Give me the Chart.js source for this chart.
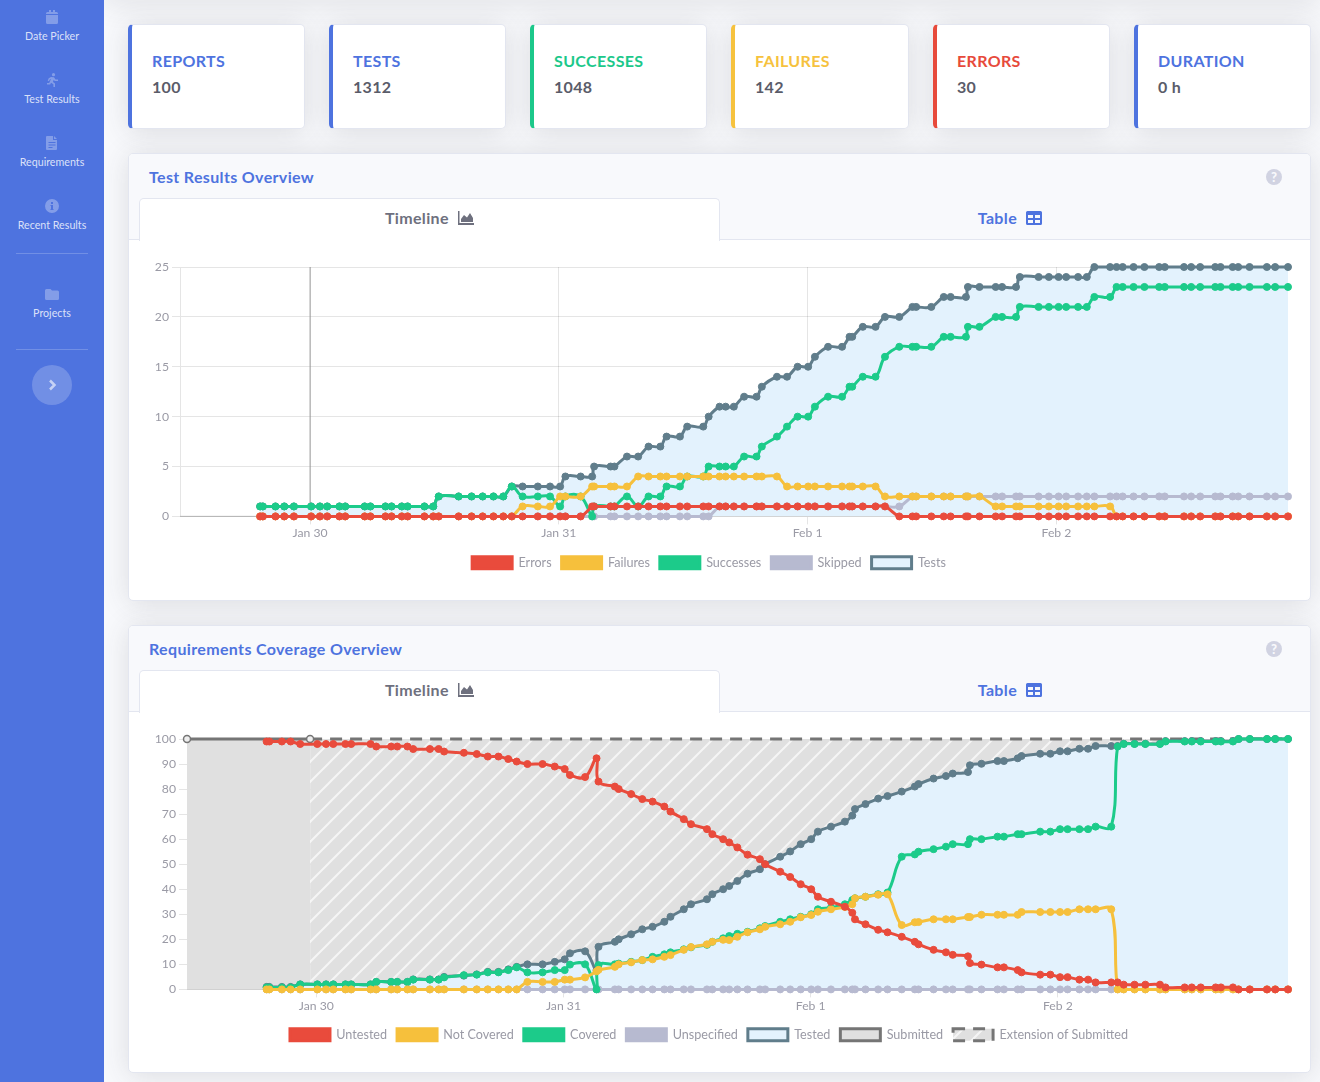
<!DOCTYPE html>
<html>
<head>
<meta charset="utf-8">
<title>Overview</title>
<script src="https://cdn.jsdelivr.net/npm/chart.js@4"></script>
<style>
  * { box-sizing: border-box; }
  html, body { margin: 0; padding: 0; }
  body { width: 1320px; height: 1082px; overflow: hidden; position: relative; background: #f8f9fc; font-family: "Lato", sans-serif; }
  .topshadow { position: absolute; left: 104px; top: -20px; width: 1216px; height: 20px; box-shadow: 0 .15rem 1.75rem 0 rgba(58,59,69,.15); }
  .sidebar { position: absolute; left: 0; top: 0; width: 104px; height: 1082px; background: #4e73df; }
  .nav { position: absolute; left: 0; width: 104px; text-align: center; font-size: 10.7px; color: rgba(255,255,255,.8); }
  .nav svg { position: absolute; left: 45px; top: 0; width: 14px; height: 14px; fill: rgba(255,255,255,.3); }
  .nav span { position: absolute; left: 0; width: 104px; top: 19px; }
  .divider { position: absolute; left: 16px; width: 72px; height: 1px; background: rgba(255,255,255,.2); }
  .toggle { position: absolute; left: 32px; top: 365px; width: 40px; height: 40px; border-radius: 50%; background: rgba(255,255,255,.2); }
  .toggle svg { position: absolute; left: 15px; top: 14px; width: 10px; height: 12px; fill: none; stroke: rgba(255,255,255,.6); stroke-width: 2.5; }
  .card { position: absolute; top: 24px; height: 105px; background: #fff; border-radius: 5px; border-left: 4px solid; box-shadow: 0 .15rem 1.75rem 0 rgba(58,59,69,.15); border-top: 1px solid #e3e6f0; border-right: 1px solid #e3e6f0; border-bottom: 1px solid #e3e6f0; }
  .card .name { position: absolute; left: 20px; top: 26px; font-size: 16px; font-weight: 700; line-height: 20px; letter-spacing: .35px; }
  .card .num { position: absolute; left: 20px; top: 52px; font-size: 16px; font-weight: 700; line-height: 20px; color: #5a5c69; letter-spacing: .3px; }
  .panel { position: absolute; left: 128px; width: 1183px; height: 448px; background: #fff; border: 1px solid #e3e6f0; border-radius: 5px; box-shadow: 0 .15rem 1.75rem 0 rgba(58,59,69,.15); overflow: hidden; }
  .head { position: absolute; left: 0; top: 0; width: 100%; height: 86px; background: #f8f9fc; border-bottom: 1px solid #e3e6f0; }
  .head h6 { position: absolute; left: 20px; top: 13px; margin: 0; font-size: 16px; font-weight: 700; line-height: 20px; color: #4e73df; letter-spacing: .35px; }
  .help { position: absolute; left: 1137px; top: 15px; width: 16px; height: 16px; border-radius: 50%; background: #d1d3e2; color: #f8f9fc; font-size: 13px; font-weight: 900; line-height: 16px; text-align: center; }
  .tab { position: absolute; top: 44px; height: 42px; font-size: 16px; font-weight: 700; line-height: 40px; text-align: center; letter-spacing: .35px; }
  .tab.on { left: 10px; width: 581px; height: 43px; line-height: 38px; background: #fff; border: 1px solid #e3e6f0; border-bottom: 0; border-radius: 5px 5px 0 0; color: #6e707e; }
  .tab.off { left: 591px; width: 580px; color: #4e73df; }
  .tab svg { width: 16px; height: 14px; vertical-align: -1px; margin-left: 5px; fill: currentColor; }
  .plot { position: absolute; left: 130px; width: 1178px; }
</style>
</head>
<body>
<div class="topshadow"></div>
<div class="sidebar">
  <div class="nav" style="top:10px"><svg viewBox="0 0 14 14"><path d="M1 5h12v7.5a1.500 1.500 0 0 1-1.500 1.500h-9A1.500 1.500 0 0 1 1 12.500zM2.500 2H4V0h2v2h2V0h2v2h1.500A1.500 1.500 0 0 1 13 3.500V4H1v-.5A1.500 1.500 0 0 1 2.500 2z"/></svg><span>Date Picker</span></div>
  <div class="nav" style="top:73px"><svg viewBox="0 0 14 14"><circle cx="8.500" cy="1.700" r="1.600"/><path d="M6 4l3 .2 1.500 2.300H13V8h-3.300L8.700 6.800 8 9l2 1.500V14H8.400v-2.700L6 9.800 5.200 11.500H2V10h2.200L6 6 4.800 6.500 4 8.300 2.700 7.700 3.700 5.300z"/></svg><span>Test Results</span></div>
  <div class="nav" style="top:136px"><svg viewBox="0 0 14 14"><path d="M2 0h6v4h4v9a1 1 0 0 1-1 1H2a1 1 0 0 1-1-1V1a1 1 0 0 1 1-1zm7 0l3 3H9zM3.500 6v1h7V6zm0 2.500v1h7v-1zm0 2.500v1h4v-1z" fill-rule="evenodd"/></svg><span>Requirements</span></div>
  <div class="nav" style="top:199px"><svg viewBox="0 0 14 14"><path fill-rule="evenodd" d="M7 0a7 7 0 1 1 0 14A7 7 0 0 1 7 0zM6 3v2h2V3zM5.500 6v1H6v3h-.500v1h3v-1H8V6z"/></svg><span>Recent Results</span></div>
  <div class="divider" style="top:253px"></div>
  <div class="nav" style="top:287px"><svg viewBox="0 0 14 14"><path d="M1.500 2H5.500L7 3.500h5.500A1.500 1.500 0 0 1 14 5v6.500a1.500 1.500 0 0 1-1.500 1.500h-11A1.500 1.500 0 0 1 0 11.500v-8A1.500 1.500 0 0 1 1.500 2z"/></svg><span>Projects</span></div>
  <div class="divider" style="top:349px"></div>
  <div class="toggle"><svg viewBox="0 0 10 12"><path d="M3 1.500l4.500 4.500L3 10.500"/></svg></div>
</div>

<div class="card" style="left:128px;width:177px;border-left-color:#4e73df"><div class="name" style="color:#4e73df">REPORTS</div><div class="num">100</div></div>
<div class="card" style="left:329px;width:177px;border-left-color:#4e73df"><div class="name" style="color:#4e73df">TESTS</div><div class="num">1312</div></div>
<div class="card" style="left:530px;width:177px;border-left-color:#1cc88a"><div class="name" style="color:#1cc88a">SUCCESSES</div><div class="num">1048</div></div>
<div class="card" style="left:731px;width:178px;border-left-color:#f6c23e"><div class="name" style="color:#f6c23e">FAILURES</div><div class="num">142</div></div>
<div class="card" style="left:933px;width:177px;border-left-color:#e74a3b"><div class="name" style="color:#e74a3b">ERRORS</div><div class="num">30</div></div>
<div class="card" style="left:1134px;width:177px;border-left-color:#4e73df"><div class="name" style="color:#4e73df">DURATION</div><div class="num">0 h</div></div>

<div class="panel" style="top:153px">
  <div class="head"><h6>Test Results Overview</h6><div class="help">?</div></div>
  <div class="tab on">Timeline <svg viewBox="0 0 16 14"><path d="M1.500 0v12H16v2H0V0zM3 11V8l3-4 3 2.500L12 2l3 5v4z"/></svg></div>
  <div class="tab off">Table <svg viewBox="0 0 16 14"><path fill-rule="evenodd" d="M1.500 0h13A1.500 1.500 0 0 1 16 1.500v11a1.500 1.500 0 0 1-1.500 1.500h-13A1.500 1.500 0 0 1 0 12.500v-11A1.500 1.500 0 0 1 1.500 0zM2 4v3h5V4zm7 0v3h5V4zM2 9v3h5V9zm7 0v3h5V9z"/></svg></div>
</div>
<div class="panel" style="top:625px">
  <div class="head"><h6>Requirements Coverage Overview</h6><div class="help">?</div></div>
  <div class="tab on">Timeline <svg viewBox="0 0 16 14"><path d="M1.500 0v12H16v2H0V0zM3 11V8l3-4 3 2.500L12 2l3 5v4z"/></svg></div>
  <div class="tab off">Table <svg viewBox="0 0 16 14"><path fill-rule="evenodd" d="M1.500 0h13A1.500 1.500 0 0 1 16 1.500v11a1.500 1.500 0 0 1-1.500 1.500h-13A1.500 1.500 0 0 1 0 12.500v-11A1.500 1.500 0 0 1 1.500 0zM2 4v3h5V4zm7 0v3h5V4zM2 9v3h5V9zm7 0v3h5V9z"/></svg></div>
</div>

<div class="plot" style="top:250px;height:329px"><canvas id="testChart"></canvas></div>
<div class="plot" style="top:722px;height:329px"><canvas id="reqChart"></canvas></div>

<script>
// Hours since Jan 30 00:00 for each of the 100 reports
const reportHours = [
  -4.82,-4.56,-3.34,-2.49,-1.56,0.10,0.95,1.65,2.83,3.39,
  5.27,5.82,7.27,7.86,8.85,9.41,11.03,11.88,12.41,14.33,
  15.58,16.65,17.69,18.64,19.46,20.50,21.97,23.15,24.12,24.63,
  26.10,27.21,27.40,28.99,29.36,30.57,31.65,32.65,33.79,34.39,
  35.68,36.38,37.93,38.45,39.50,40.09,40.88,41.87,43.07,43.58,
  45.04,46.01,47.03,48.05,48.70,49.97,51.32,52.04,52.30,53.32,
  54.55,55.46,56.84,58.11,58.47,59.93,61.13,61.79,63.27,63.46,
  64.58,66.14,66.76,68.10,68.47,70.28,71.27,72.21,72.94,74.09,
  74.93,75.66,77.18,77.80,78.39,79.44,80.49,81.91,82.45,84.31,
  85.00,85.87,87.32,87.83,89.00,89.54,90.63,92.30,93.10,94.34
];
const tickHours = [0, 24, 48, 72];
const tickNames = ["Jan 30", "Jan 31", "Feb 1", "Feb 2"];
const axisStart = -12.55;
const axisEnd = 94.34;

// Test results counts
const errors = [
  0,0,0,0,0,0,0,0,0,0, 0,0,0,0,0,0,0,0,0,0, 0,0,0,0,0,0,0,0,0,0,
  0,1,1,1,1,1,1,1,1,1, 1,1,1,1,1,1,1,1,1,1, 1,1,1,1,1,1,1,1,1,1,
  1,1,0,0,0,0,0,0,0,0, 0,0,0,0,0,0,0,0,0,0, 0,0,0,0,0,0,0,0,0,0,
  0,0,0,0,0,0,0,0,0,0
];
const failures = [
  0,0,0,0,0,0,0,0,0,0, 0,0,0,0,0,0,0,0,0,0, 0,0,0,0,0,1,1,1,2,2,
  2,3,3,3,3,3,4,4,4,4, 4,4,4,4,4,4,4,4,4,4, 4,3,3,3,3,3,3,3,3,3,
  3,2,2,2,2,2,2,2,2,2, 2,1,1,1,1,1,1,1,1,1, 1,1,1,0,0,0,0,0,0,0,
  0,0,0,0,0,0,0,0,0,0
];
const successes = [
  1,1,1,1,1,1,1,1,1,1, 1,1,1,1,1,1,1,1,2,2, 2,2,2,2,3,2,2,2,1,2,
  2,0,1,1,1,2,1,2,2,3, 3,4,4,5,5,5,5,6,6,7, 8,9,10,10,11,12,12,13,13,14,
  14,16,17,17,17,17,18,18,18,19, 19,20,20,20,21,21,21,21,21,21, 21,22,22,23,23,23,23,23,23,23,
  23,23,23,23,23,23,23,23,23,23
];
const skipped = [
  0,0,0,0,0,0,0,0,0,0, 0,0,0,0,0,0,0,0,0,0, 0,0,0,0,0,0,0,0,0,0,
  0,0,0,0,0,0,0,0,0,0, 0,0,0,0,1,1,1,1,1,1, 1,1,1,1,1,1,1,1,1,1,
  1,1,1,2,2,2,2,2,2,2, 2,2,2,2,2,2,2,2,2,2, 2,2,2,2,2,2,2,2,2,2,
  2,2,2,2,2,2,2,2,2,2
];
const tests = [
  1,1,1,1,1,1,1,1,1,1, 1,1,1,1,1,1,1,1,2,2, 2,2,2,2,3,3,3,3,3,4,
  4,4,5,5,5,6,6,7,7,8, 8,9,9,10,11,11,11,12,12,13, 14,14,15,15,16,17,17,18,18,19,
  19,20,20,21,21,21,22,22,22,23, 23,23,23,23,24,24,24,24,24,24, 24,25,25,25,25,25,25,25,25,25,
  25,25,25,25,25,25,25,25,25,25
];
// Grey reference line of the first chart
const startLineHours = [axisStart, 0, 0];
const startLineValues = [0, 0, 25];

// Requirements coverage, percent
const untested = [
  99,99,99,99,98,98,98,98,98,98, 98,97,97,97,97,96,96,96,95,94.5,
  94,93,93,92,91,90,90,89,88,85.6, 84.8,92.3,83,81,80,78,76,75,73,71,
  68,66,64,62,60,58.7,56.7,53.8,52,50, 47,44.9,42,40,37,35,33,30.6,28,26,
  23.8,22.8,21,19,18,15.8,14.8,13.8,13.2,10.5, 9.9,8.8,8.8,7.7,6.8,5.9,5.9,4.9,4.9,3.9,
  3.9,2.8,2.8,2.8,1.9,1.9,1.9,1.9,0.8,0.8, 0.8,0.8,0.8,0.8,0.8,0,0,0,0,0
];
const notCovered = [
  0,0,0,0,0,0,0,0,0,0, 0,0,0,0,0,0,0,0,0,0,
  0,0,0,0,0,3,3,3,3.9,3.9, 4.8,7.2,7.8,9,10,10.8,11.7,12,13,13.7,
  15.8,16.9,18,19,19.8,19.7,21,22.8,24,25, 26,27,28.8,29.7,31,32,32.9,34,36.4,37,
  37.8,38,25.7,26.8,26.9,28,28,28,28.9,28.9, 29.8,29.8,29.8,29.8,30.9,30.9,30.9,30.9,30.9,32,
  32,32,32,0,0,0,0,0,0,0, 0,0,0,0,0,0,0,0,0,0
];
const covered = [
  0.8,0.8,0.8,0.8,2,2,2,2,2,2, 2,3,3,3,3,3.9,3.9,3.9,4.8,5.7,
  5.9,6.8,6.8,7.7,8.8,6.8,6.8,7.7,7.7,9.9, 10,0,9.7,10,10.3,11,11.7,13,14,14.8,
  16,16.8,17.8,19,20.4,21.3,22.2,23,24.4,25.3, 27,28,29,30,32,32.6,34,35.7,36.4,37,
  38,38.7,53,53.9,55,56,57,58,58,60, 60,61,61,62,62,63,63,64,64,64,
  64,65,65,97,98,98,98,98,99,99, 99,99,99,99,99,100,100,100,100,100
];
const unspecified = [
  0,0,0,0,0,0,0,0,0,0, 0,0,0,0,0,0,0,0,0,0, 0,0,0,0,0,0,0,0,0,0,
  0,0,0,0,0,0,0,0,0,0, 0,0,0,0,0,0,0,0,0,0, 0,0,0,0,0,0,0,0,0,0,
  0,0,0,0,0,0,0,0,0,0, 0,0,0,0,0,0,0,0,0,0, 0,0,0,0,0,0,0,0,0,0,
  0,0,0,0,0,0,0,0,0,0
];
const tested = [
  1,1,1,1,2,2,2,2,2,2, 2,3,3,3,3,4,4,4,5,5.5,
  6,7,7,8,9,10,10,11,12,14.4, 15.2,7.7,17,19,20,22,24,25,27,29,
  32,34,36,38,40,41.3,43.3,46.2,48,50, 53,55.1,58,60,63,65,67,69.4,72,74,
  76.2,77.2,79,81,82,84.2,85.2,86.2,86.8,89.5, 90.1,91.2,91.2,92.3,93.2,94.1,94.1,95.1,95.1,96.1,
  96.1,97.2,97.2,97.2,98.1,98.1,98.1,98.1,99.2,99.2, 99.2,99.2,99.2,99.2,99.2,100,100,100,100,100
];
const submittedHours = [axisStart, -0.6];
const submittedValues = [100, 100];
const extensionHours = [-0.6, axisEnd];
const extensionValues = [100, 100];

const RED = "#e94b3c";
const YELLOW = "#f6c03c";
const GREEN = "#1ccb8a";
const GREY = "#b7bad0";
const SLATE = "#607d8b";
const SKY = "#e3f2fd";
const SUBMIT = "#757575";
const SUBMIT_FILL = "#e0e0e0";
const FONT = "Lato";

function toPoints(xs, ys) {
  return xs.map((x, i) => ({ x: x, y: ys[i] }));
}

// Same look for every series line with dots
function seriesLine(label, values, color, fill) {
  return {
    label: label,
    data: toPoints(reportHours, values),
    borderColor: color,
    backgroundColor: fill || color,
    pointBackgroundColor: color,
    pointBorderColor: color,
    pointRadius: 3.5,
    pointBorderWidth: 1,
    borderWidth: 3,
    tension: 0.4,
    fill: fill ? "origin" : false,
    clip: false,
  };
}

// Diagonal white stripes over grey for the extension area
function hatchPattern() {
  const tile = document.createElement("canvas");
  tile.width = 20;
  tile.height = 20;
  const c = tile.getContext("2d");
  c.fillStyle = SUBMIT_FILL;
  c.fillRect(0, 0, 20, 20);
  c.strokeStyle = "#f5f5f5";
  c.lineWidth = 2;
  c.beginPath();
  c.moveTo(-2, 22);
  c.lineTo(22, -2);
  c.moveTo(-2, 2);
  c.lineTo(2, -2);
  c.moveTo(18, 22);
  c.lineTo(22, 18);
  c.stroke();
  return c.createPattern(tile, "repeat");
}

function baseOptions(yMax, yStep, yWidth, xHeight) {
  return {
    responsive: true,
    maintainAspectRatio: false,
    animation: false,
    layout: { padding: { top: 17, right: 20, left: 0, bottom: 0 } },
    plugins: {
      tooltip: { enabled: false },
      legend: {
        position: "bottom",
        labels: {
          font: { family: FONT, size: 12.6 },
          color: "#9a9aa5",
          boxWidth: 40,
          boxHeight: 12,
          padding: 10,
          filter: (item) => item.text !== "",
        },
      },
    },
    scales: {
      x: {
        type: "linear",
        min: axisStart,
        max: axisEnd,
        grid: { color: "rgba(0,0,0,0.1)" },
        ticks: {
          autoSkip: false,
          maxRotation: 0,
          padding: 1,
          font: { family: FONT, size: 12.2 },
          color: "#9a9aa5",
          callback: (v) => tickNames[tickHours.indexOf(v)],
        },
        afterBuildTicks: (s) => {
          s.ticks = tickHours.map((h) => ({ value: h }));
        },
        afterFit: (s) => {
          s.height = xHeight;
        },
      },
      y: {
        min: 0,
        max: yMax,
        grid: { color: "rgba(0,0,0,0.1)" },
        ticks: {
          stepSize: yStep,
          font: { family: FONT, size: 12.2 },
          color: "#9a9aa5",
        },
        afterFit: (s) => {
          s.width = yWidth;
        },
      },
    },
  };
}

new Chart(document.getElementById("testChart"), {
  type: "line",
  data: {
    datasets: [
      seriesLine("Errors", errors, RED),
      seriesLine("Failures", failures, YELLOW),
      seriesLine("Successes", successes, GREEN),
      seriesLine("Skipped", skipped, GREY),
      seriesLine("Tests", tests, SLATE, SKY),
      {
        label: "",
        data: toPoints(startLineHours, startLineValues),
        borderColor: "#9e9e9e",
        borderWidth: 1,
        pointRadius: 0,
        fill: false,
      },
    ],
  },
  options: baseOptions(25, 5, 50, 30),
});

new Chart(document.getElementById("reqChart"), {
  type: "line",
  data: {
    datasets: [
      seriesLine("Untested", untested, RED),
      seriesLine("Not Covered", notCovered, YELLOW),
      seriesLine("Covered", covered, GREEN),
      seriesLine("Unspecified", unspecified, GREY),
      seriesLine("Tested", tested, SLATE, SKY),
      {
        label: "Submitted",
        data: toPoints(submittedHours, submittedValues),
        borderColor: SUBMIT,
        backgroundColor: SUBMIT_FILL,
        borderWidth: 3,
        pointRadius: 3.5,
        pointBackgroundColor: "#eeeeee",
        pointBorderColor: SUBMIT,
        pointBorderWidth: 1.5,
        fill: "origin",
        clip: false,
      },
      {
        label: "Extension of Submitted",
        data: toPoints(extensionHours, extensionValues),
        borderColor: SUBMIT,
        backgroundColor: hatchPattern(),
        borderWidth: 3,
        borderDash: [12, 8],
        pointRadius: 0,
        fill: "origin",
        clip: false,
      },
    ],
  },
  options: baseOptions(100, 10, 57, 29),
});
</script>
</body>
</html>
